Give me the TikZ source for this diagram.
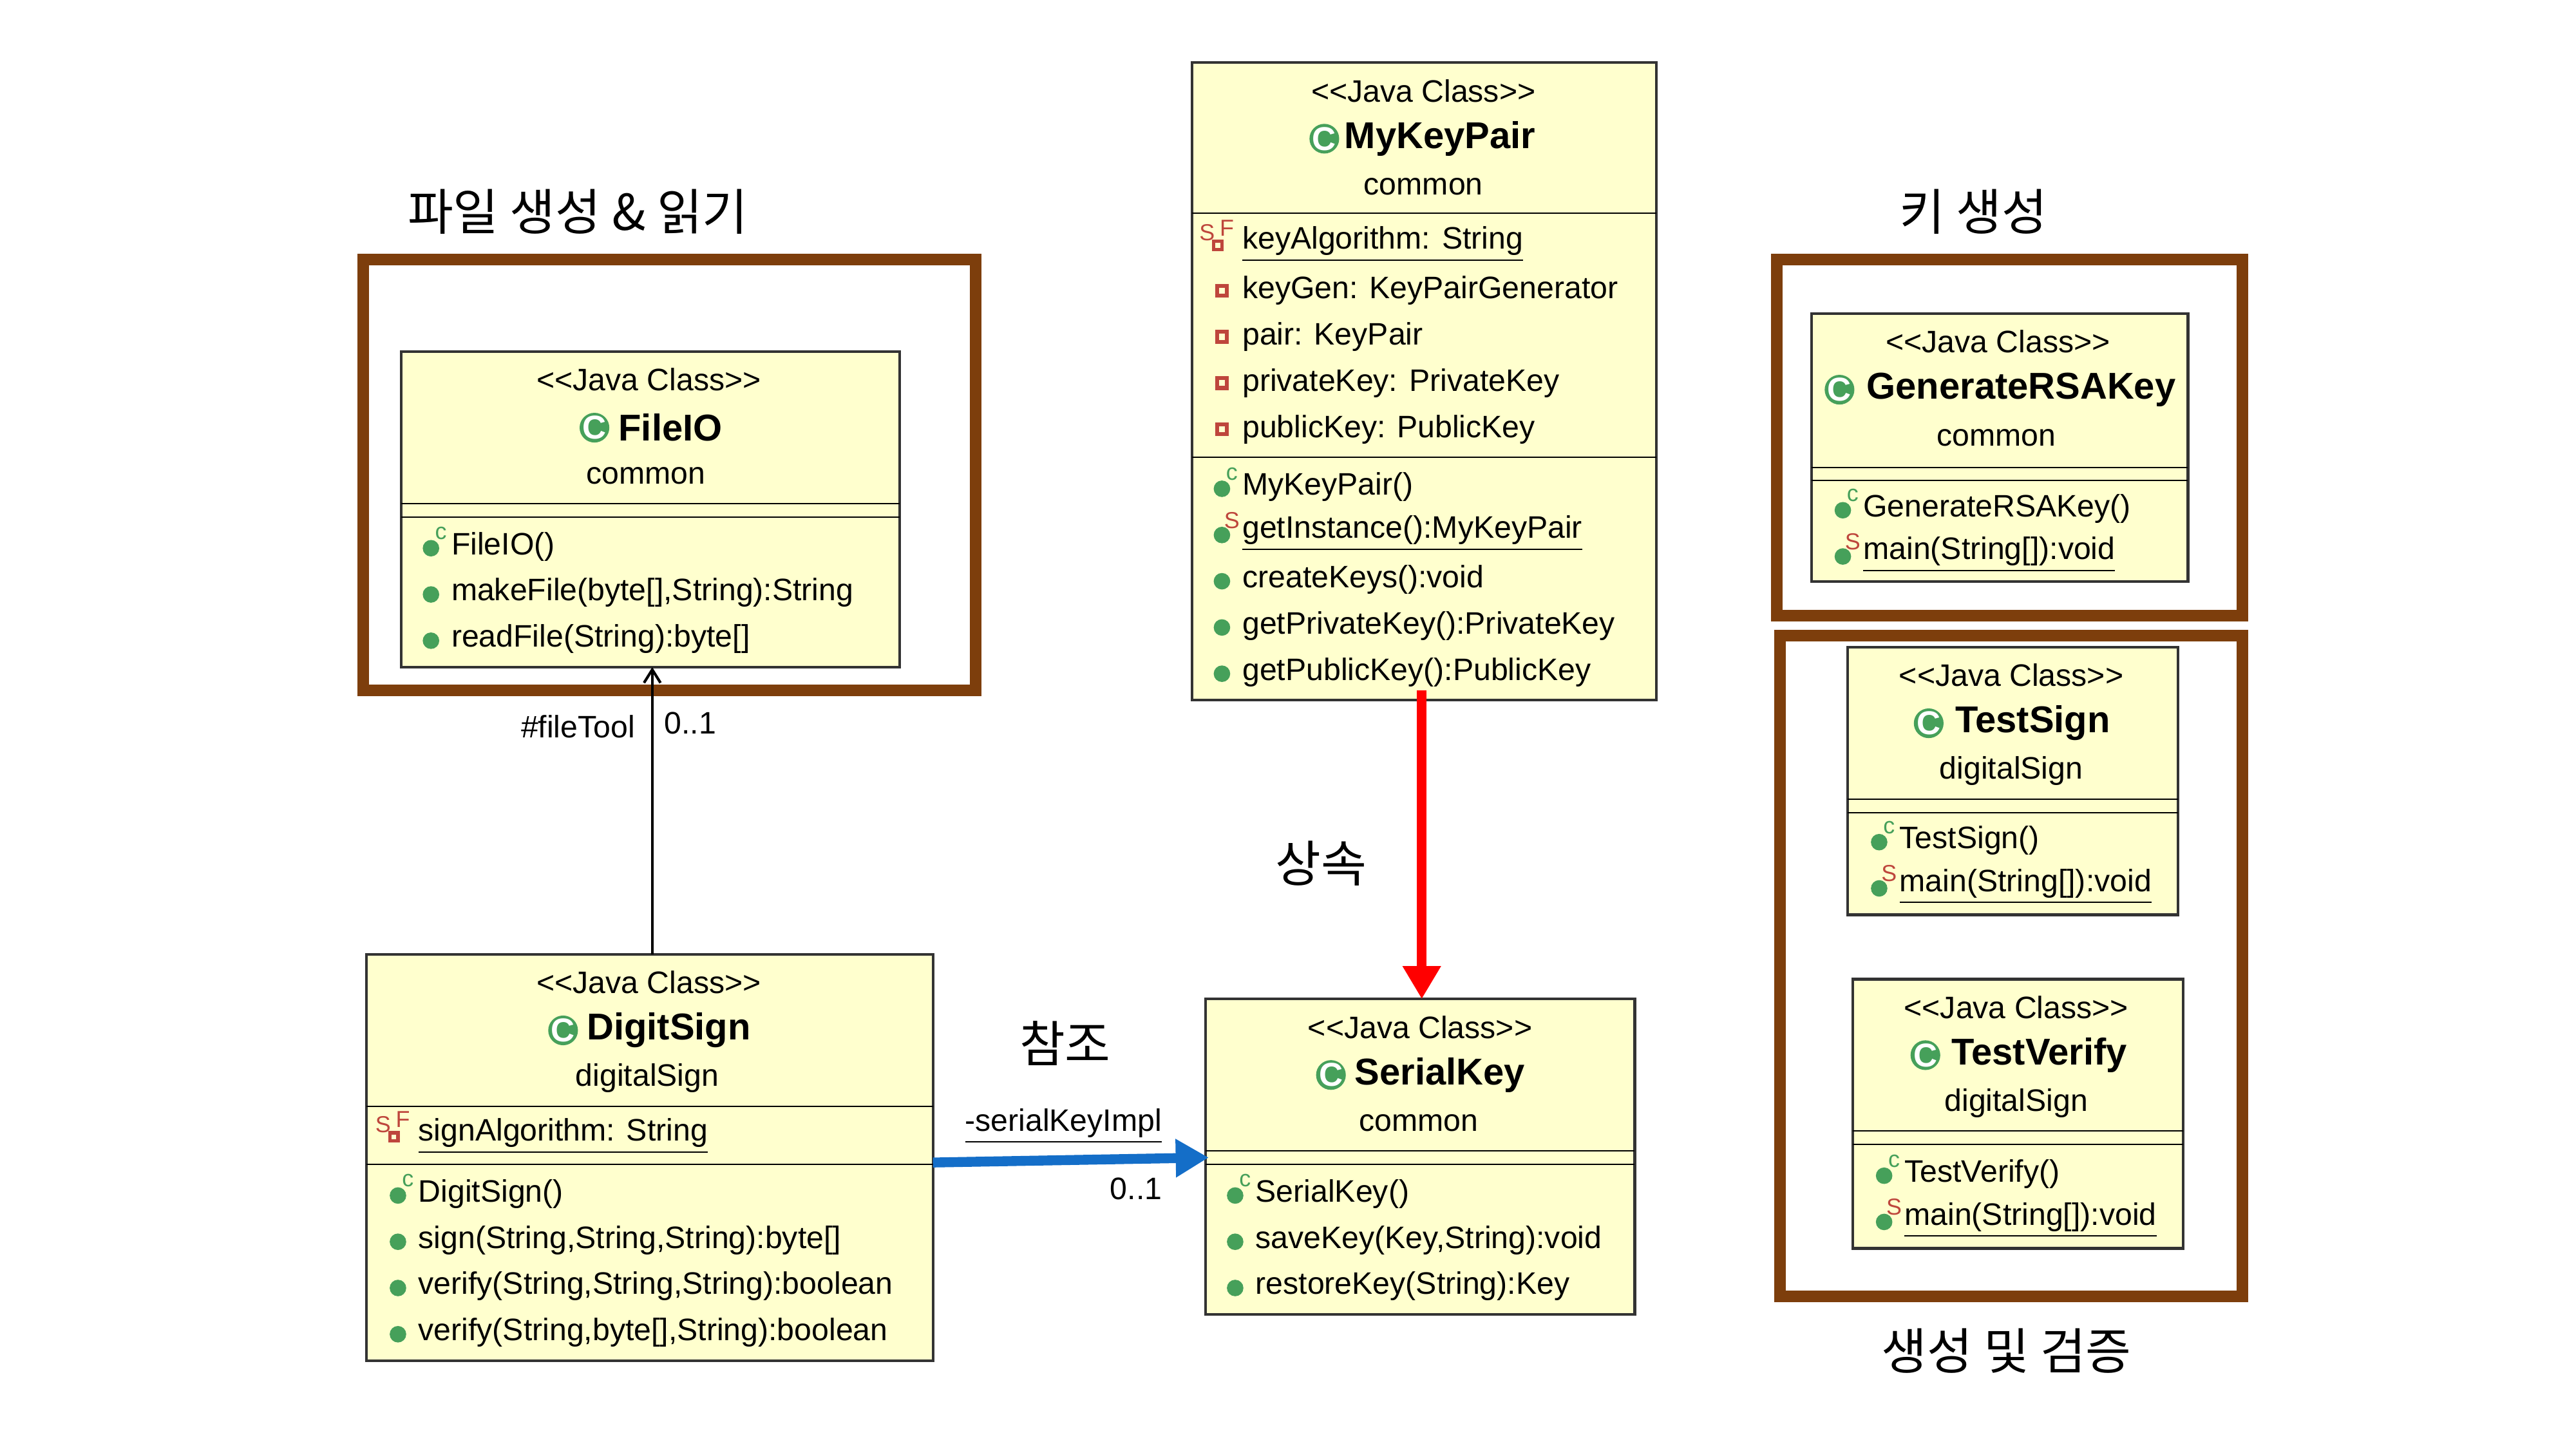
\documentclass[tikz,border=0pt]{standalone}
\usepackage{fontspec}
\setmainfont{Liberation Sans}
\newfontfamily\kr{Noto Sans CJK KR}
\usetikzlibrary{arrows.meta}
\definecolor{boxfill}{RGB}{255,255,206}
\definecolor{mgreen}{RGB}{70,160,90}
\definecolor{pcol}{RGB}{190,70,60}
\definecolor{frame}{RGB}{125,62,12}
\definecolor{ablue}{RGB}{20,110,200}
\newcommand\jc{{<}{<}Java Class{>}{>}}
\newcommand\icM[2]{\fill[mgreen] (#1,#2) circle (5);}
\newcommand\icC[2]{\icM{#1}{#2}\node[font=\fontsize{7}{7}\selectfont,text=mgreen,inner sep=0] at (#1+6,#2-9) {c};}
\newcommand\icS[2]{\icM{#1}{#2}\node[font=\fontsize{7}{7}\selectfont,text=pcol,inner sep=0] at (#1+6,#2-9) {S};}
\newcommand\icP[2]{\draw[pcol,line width=1.2] (#1-3,#2-3) rectangle (#1+3,#2+3);}
\newcommand\icSF[2]{\draw[pcol,line width=1] (#1,#2+1) rectangle (#1+5,#2+6);\node[font=\fontsize{7}{7}\selectfont,text=pcol,inner sep=0] at (#1-4,#2-4) {S};\node[font=\fontsize{7}{7}\selectfont,text=pcol,inner sep=0] at (#1+8,#2-7) {F};}
\newcommand\rowt[4]{\node[rowtext] (#1) at (#2,#3) {#4};}
\newcommand\clsicon[2]{\fill[mgreen] (#1,#2) circle (9);\node[text=white,font=\bfseries\fontsize{10}{10}\selectfont,inner sep=0] at (#1,#2) {C};}
\begin{document}
\begin{tikzpicture}[x=0.5pt,y=-0.5pt,
  rowtext/.style={anchor=west,inner sep=0,font=\fontsize{9.4}{10}\selectfont},
  umlbox/.style={draw=black!80,fill=boxfill,line width=0.8},
  stereo/.style={inner sep=0,font=\fontsize{9.4}{10}\selectfont},
  cname/.style={inner sep=0,font=\bfseries\fontsize{11.3}{12}\selectfont},
  frm/.style={draw=frame,line width=3.5},
  krlab/.style={inner sep=0,font=\kr\fontsize{15}{16}\selectfont},
  small/.style={inner sep=0,font=\fontsize{9.4}{10}\selectfont}]
\useasboundingbox (0,0) rectangle (1560,877.5);
\fill[white] (0,0) rectangle (1560,877.5);
% frames
\draw[frm] (220,157) rectangle (591,418);
\draw[frm] (1076,157) rectangle (1358,373);
\draw[frm] (1078,385) rectangle (1358,785);
\node[krlab] (l1) at (350,128) {파일 생성 \& 읽기};
\node[krlab] (l2) at (1195,128) {키 생성};
\node[krlab] (l3) at (1215,818) {생성 및 검증};
\node[krlab] (l4) at (800,523) {상속};
\node[krlab] (l5) at (645,632) {참조};
% MyKeyPair
\draw[umlbox] (722,38) rectangle (1003,424);
\draw (722,129) -- (1003,129); \draw (722,277) -- (1003,277);
\node[stereo] (mkps) at (862,55) {\jc};
\node[cname] (mkpn) at (872,84) {MyKeyPair}; \clsicon{802}{84}
\node[stereo] (mkpp) at (862,113) {common};
\icSF{735}{145}\rowt{a1}{752}{148}{\underline{keyAlgorithm: String}}
\icP{740}{176}\rowt{a2}{752}{176}{keyGen: KeyPairGenerator}
\icP{740}{204}\rowt{a3}{752}{204}{pair: KeyPair}
\icP{740}{232}\rowt{a4}{752}{232}{privateKey: PrivateKey}
\icP{740}{260}\rowt{a5}{752}{260}{publicKey: PublicKey}
\icC{740}{296}\rowt{m1}{752}{295}{MyKeyPair()}
\icS{740}{324}\rowt{m2}{752}{323}{\underline{getInstance():MyKeyPair}}
\icM{740}{352}\rowt{m3}{752}{351}{createKeys():void}
\icM{740}{380}\rowt{m4}{752}{379}{getPrivateKey():PrivateKey}
\icM{740}{408}\rowt{m5}{752}{407}{getPublicKey():PublicKey}
% FileIO
\draw[umlbox] (243,213) rectangle (545,404);
\draw (243,305) -- (545,305); \draw (243,313) -- (545,313);
\node[stereo] (fs) at (393,230) {\jc};
\node[cname] (fn) at (406,259) {FileIO}; \clsicon{360}{259}
\node[stereo] (fp) at (391,288) {common};
\icC{261}{332}\rowt{f1}{273}{331}{FileIO()}
\icM{261}{360}\rowt{f2}{273}{359}{makeFile(byte[],String):String}
\icM{261}{388}\rowt{f3}{273}{387}{readFile(String):byte[]}
% DigitSign
\draw[umlbox] (222,578) rectangle (565,824);
\draw (222,670) -- (565,670); \draw (222,705) -- (565,705);
\node[stereo] (ds) at (393,595) {\jc};
\node[cname] (dn) at (405,624) {DigitSign}; \clsicon{341}{624}
\node[stereo] (dp) at (392,653) {digitalSign};
\icSF{236}{685}\rowt{d0}{253}{688}{\underline{signAlgorithm: String}}
\icC{241}{724}\rowt{d1}{253}{723}{DigitSign()}
\icM{241}{752}\rowt{d2}{253}{751}{sign(String,String,String):byte[]}
\icM{241}{780}\rowt{d3}{253}{779}{verify(String,String,String):boolean}
\icM{241}{808}\rowt{d4}{253}{807}{verify(String,byte[],String):boolean}
% SerialKey
\draw[umlbox] (730,605) rectangle (990,796);
\draw (730,697) -- (990,697); \draw (730,705) -- (990,705);
\node[stereo] (ss) at (860,622) {\jc};
\node[cname] (sn) at (872,651) {SerialKey}; \clsicon{806}{651}
\node[stereo] (sp) at (859,680) {common};
\icC{748}{724}\rowt{s1}{760}{723}{SerialKey()}
\icM{748}{752}\rowt{s2}{760}{751}{saveKey(Key,String):void}
\icM{748}{780}\rowt{s3}{760}{779}{restoreKey(String):Key}
% GenerateRSAKey
\draw[umlbox] (1097,190) rectangle (1325,352);
\draw (1097,283) -- (1325,283); \draw (1097,291) -- (1325,291);
\node[stereo] (gs) at (1210,207) {\jc};
\node[cname] (gn) at (1224,236) {GenerateRSAKey}; \clsicon{1114}{236}
\node[stereo] (gp) at (1209,265) {common};
\icC{1116}{309}\rowt{g1}{1128}{308}{GenerateRSAKey()}
\icS{1116}{337}\rowt{g2}{1128}{336}{\underline{main(String[]):void}}
% TestSign
\draw[umlbox] (1119,392) rectangle (1319,554);
\draw (1119,484) -- (1319,484); \draw (1119,492) -- (1319,492);
\node[stereo] (ts) at (1218,409) {\jc};
\node[cname] (tn) at (1231,438) {TestSign}; \clsicon{1168}{438}
\node[stereo] (tp) at (1218,467) {digitalSign};
\icC{1138}{510}\rowt{t1}{1150}{509}{TestSign()}
\icS{1138}{538}\rowt{t2}{1150}{537}{\underline{main(String[]):void}}
% TestVerify
\draw[umlbox] (1122,593) rectangle (1322,756);
\draw (1122,685) -- (1322,685); \draw (1122,693) -- (1322,693);
\node[stereo] (vs) at (1221,610) {\jc};
\node[cname] (vn) at (1235,639) {TestVerify}; \clsicon{1166}{639}
\node[stereo] (vp) at (1221,668) {digitalSign};
\icC{1141}{712}\rowt{v1}{1153}{711}{TestVerify()}
\icS{1141}{740}\rowt{v2}{1153}{739}{\underline{main(String[]):void}}
% connectors
\coordinate (fioB) at (395,404); \coordinate (dsT) at (395,578);
\draw[line width=0.8,-{Straight Barb[length=4pt,width=5pt]}] (dsT) -- (fioB);
\node[small] (ft) at (350,440) {\#fileTool};
\node[small] (fm) at (418,438) {0..1};
\coordinate (mkB) at (861,418); \coordinate (skT) at (861,605);
\draw[red,line width=3,-{Triangle[length=10pt,width=11pt]}] (mkB) -- (skT);
\coordinate (dsR) at (565,704); \coordinate (skL) at (732,701);
\draw[ablue,line width=3,-{Triangle[length=10pt,width=11pt]}] (dsR) -- (skL);
\node[small] (sk) at (644,682) {\underline{-serialKeyImpl}};
\node[small] (sm) at (688,720) {0..1};
\end{tikzpicture}
\end{document}
